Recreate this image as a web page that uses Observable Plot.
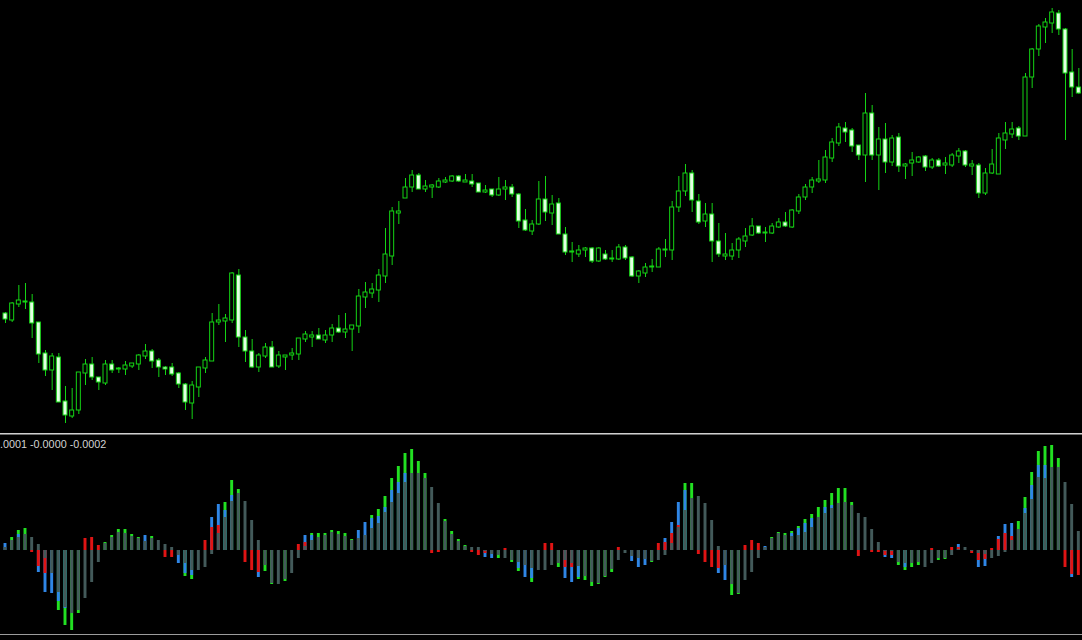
<!DOCTYPE html>
<html><head><meta charset="utf-8">
<script src="https://cdn.jsdelivr.net/npm/d3@7"></script>
<script src="https://cdn.jsdelivr.net/npm/@observablehq/plot@0.6"></script>
<style>
html,body{margin:0;padding:0;background:#000;width:1082px;height:640px;overflow:hidden}
#wrap{position:relative;width:1082px;height:640px;background:#000}
#topPanel{position:absolute;left:0;top:0}
#sep1{position:absolute;left:0;top:433px;width:1082px;height:1px;background:#cfcfcf}
#sep2{position:absolute;left:0;top:434px;width:1082px;height:1px;background:#6e6e6e}
#botPanel{position:absolute;left:0;top:435px}
#botline{position:absolute;left:0;top:634px;width:1082px;height:1px;background:#9c9c9c}
#lbl{position:absolute;left:0;top:438px;font:10.8px "Liberation Sans",Arial,sans-serif;color:#d4d4d4;white-space:nowrap}
svg{display:block}
</style></head>
<body><div id="wrap"><div id="topPanel"></div><div id="sep1"></div><div id="sep2"></div><div id="botPanel"></div><div id="botline"></div><div id="lbl"></div></div>
<script>
// Price (points above base level)
const open  = [127,120,136,138,138,118,87,70,83,39,24,30,67,76,63,57,76,71,71,74,76,84,89,80,73,73,67,56,37,53,72,79,118,119,120,165,103,89,73,84,93,74,83,85,86,101,103,105,100,105,112,108,111,114,143,147,150,164,184,227,242,253,265,251,253,253,258,259,264,258,259,257,248,251,245,251,253,246,220,209,216,241,227,237,206,188,186,190,192,179,186,181,181,193,183,164,167,173,173,190,190,233,249,267,239,219,226,199,184,184,190,199,205,214,207,207,213,218,213,229,243,253,259,260,282,297,312,310,295,285,327,285,301,278,303,274,277,278,284,273,280,275,275,284,289,274,275,247,267,266,300,306,312,304,363,391,413,417,427,411,368,353];
const high  = [128,138,155,157,146,118,90,87,87,54,52,68,81,83,63,80,80,73,79,77,86,96,91,82,74,77,68,57,59,73,83,127,136,126,168,171,110,101,87,97,99,89,85,92,102,109,109,112,110,116,125,127,115,151,158,157,171,212,233,239,262,270,267,260,256,262,263,265,265,266,266,257,255,251,263,260,256,247,231,220,259,264,245,242,213,198,195,193,193,193,190,190,196,195,184,170,177,181,193,201,239,264,276,270,246,237,237,217,207,197,203,212,222,214,213,217,222,228,231,246,256,263,280,290,302,317,318,312,295,347,335,313,317,305,307,277,288,284,285,282,282,283,287,292,290,280,277,272,291,307,318,318,314,367,392,416,422,432,430,412,391,372];
const low   = [117,118,133,131,102,77,64,50,38,17,22,26,55,60,50,55,67,67,65,72,70,81,72,63,65,64,52,30,21,43,67,79,115,98,117,93,78,72,68,82,73,72,70,80,80,98,93,101,97,98,107,102,89,107,132,142,138,157,175,216,242,248,251,248,242,252,257,258,258,258,253,248,247,243,244,240,243,212,209,205,215,219,215,206,185,178,183,183,177,178,180,178,180,180,163,157,163,168,173,183,180,228,244,228,216,213,178,183,180,180,182,193,204,206,198,206,212,213,212,226,240,247,257,257,278,294,298,288,280,258,280,250,267,274,268,261,264,277,269,271,273,266,273,277,273,265,242,245,266,266,291,302,300,304,352,384,397,407,405,300,343,346];
const close = [121,137,140,139,117,86,70,84,38,25,30,68,76,63,58,76,70,72,75,77,85,89,79,73,71,66,56,38,55,73,80,118,120,122,167,103,89,73,85,93,73,85,85,87,102,106,105,101,105,112,108,111,115,144,148,151,165,186,229,229,253,265,251,254,255,259,260,264,259,260,256,248,250,245,251,253,246,219,210,216,241,228,236,206,188,189,190,192,179,192,181,182,193,182,164,169,173,174,191,191,233,249,267,240,218,226,199,186,186,190,201,204,214,207,208,214,218,214,230,243,253,260,261,283,298,313,308,294,285,327,285,301,278,302,274,276,280,283,273,280,274,277,285,289,275,276,247,267,276,302,307,311,304,363,391,414,418,428,411,367,353,347];

// Oscillator subwindow (x 1e-6): gray main histogram, red / blue / green buffers
const histMain  = [3,10,13,16,13,6,-8,-23,-42,-57,-63,-60,-48,-32,-12,7,13,18,17,14,12,9,12,10,6,3,-5,-13,-20,-20,-17,-4,17,33,49,57,49,30,10,-15,-33,-34,-29,-23,-8,4,10,13,15,18,16,14,10,12,15,22,27,38,48,57,68,77,77,72,63,47,29,16,9,4,3,3,-1,-4,-5,-8,-10,-12,-15,-18,-20,-20,-15,-13,-10,-13,-16,-26,-32,-33,-26,-19,-10,-3,-6,-8,-9,-11,-10,-5,7,23,40,52,54,47,30,4,-15,-34,-43,-30,-22,-8,3,12,17,15,14,15,18,23,33,37,42,47,48,45,37,33,21,8,-1,-1,-12,-13,-13,-12,-17,-13,-8,-8,-5,1,3,-1,-3,-4,-8,-6,-2,10,21,37,51,73,72,83,83,68,46,19];
const histRed   = [0,0,0,0,-2,-16,-23,0,0,0,0,0,12,13,5,0,0,0,0,0,0,0,0,0,-7,-7,0,0,0,0,10,23,25,0,0,0,-12,-20,-22,0,0,0,0,0,6,8,0,0,0,0,0,0,0,0,0,0,0,0,0,0,0,0,0,0,-3,-2,0,0,0,0,-2,-5,-3,0,0,2,0,0,0,0,0,7,7,0,-17,-17,0,0,0,0,0,0,3,0,0,0,0,0,7,8,17,25,0,0,-4,-12,-17,-18,0,0,0,5,10,7,0,0,0,0,0,0,0,0,0,0,0,0,0,0,-6,0,-2,-2,-5,-5,0,0,0,0,0,2,0,0,3,3,0,-3,-10,-9,2,11,17,14,0,0,0,0,0,0,0,-17,-24,-25];
const histBlue  = [7,0,16,0,0,-22,-42,-43,-51,-58,0,0,0,0,0,0,0,0,0,0,0,15,0,0,0,0,-13,-23,-25,0,0,33,46,40,55,0,0,0,-27,0,0,0,0,0,0,15,15,0,0,0,0,0,0,20,28,32,34,43,60,68,77,0,0,0,0,0,0,0,0,0,0,0,-7,-8,0,0,0,-18,-27,-28,0,0,0,0,-28,-32,-27,0,0,0,0,0,0,0,-11,-17,-15,0,0,12,28,48,60,0,0,0,0,-23,-30,0,0,0,0,0,4,0,0,0,17,22,27,32,0,43,45,0,0,0,0,0,0,0,-7,-8,0,-17,0,0,0,0,0,0,0,6,0,0,-17,-16,0,14,26,27,0,42,65,85,85,0,0,0,-27,0];
const histGreen = [0,13,20,22,0,0,0,0,-60,-75,-80,-63,0,0,0,8,15,21,21,16,13,0,14,0,0,0,0,-26,-29,0,0,0,0,48,70,61,0,0,0,-21,-34,0,-31,0,0,0,17,17,17,20,19,17,11,0,0,35,41,54,72,84,97,101,89,77,0,0,31,19,11,5,0,0,0,0,-8,0,-12,-21,0,-32,0,0,0,-17,0,0,-29,-30,-36,-34,-27,-22,0,0,0,0,0,-12,0,0,0,0,67,67,0,0,0,0,0,-45,-44,0,0,0,0,13,18,17,19,24,31,36,43,50,57,62,62,48,0,0,0,0,0,0,-15,-20,-17,-15,0,0,-10,-9,0,0,0,0,0,0,0,0,0,0,29,53,78,99,104,105,92,0,0,0];

const subLabel = ".0001 -0.0000 -0.0002";

const xScale = {type: "linear", domain: [-0.75, 161.55], range: [0, 1082]};
const candles = open.map((o, i) => ({i, open: o, high: high[i], low: low[i], close: close[i], bull: close[i] >= o}));
const GREEN = "#14d414";

const priceChart = Plot.plot({
  width: 1082, height: 433,
  marginTop: 0, marginBottom: 0, marginLeft: 0, marginRight: 0,
  style: {background: "#000", color: "#fff"},
  x: {...xScale, axis: null},
  y: {domain: [7, 440], range: [433, 0], axis: null},
  marks: [
    Plot.ruleX(candles, {x: "i", y1: "low", y2: "high", stroke: GREEN, strokeWidth: 1}),
    Plot.rect(candles, {x1: d => d.i - 0.3, x2: d => d.i + 0.3, y1: "open", y2: "close",
      fill: d => d.bull ? "#000" : "#e2ffe2", stroke: GREEN, strokeWidth: 1})
  ]
});
document.getElementById("topPanel").appendChild(priceChart);

function layer(arr) {
  return arr.map((v, i) => ({i, v})).filter(d => d.v !== 0);
}
const W = 0.22;
const barOpts = c => ({x1: d => d.i - W, x2: d => d.i + W, y1: 0, y2: "v", fill: c});
const oscChart = Plot.plot({
  width: 1082, height: 199,
  marginTop: 0, marginBottom: 0, marginLeft: 0, marginRight: 0,
  style: {background: "#000", color: "#fff"},
  x: {...xScale, axis: null},
  y: {domain: [-84, 115], range: [199, 0], axis: null},
  marks: [
    Plot.rect(layer(histGreen), barOpts("#22e022")),
    Plot.rect(layer(histBlue), barOpts("#2f86e6")),
    Plot.rect(layer(histRed), barOpts("#e01414")),
    Plot.rect(layer(histMain), barOpts("#435a5a"))
  ]
});
document.getElementById("botPanel").appendChild(oscChart);
document.getElementById("lbl").textContent = subLabel;
</script></body></html>
